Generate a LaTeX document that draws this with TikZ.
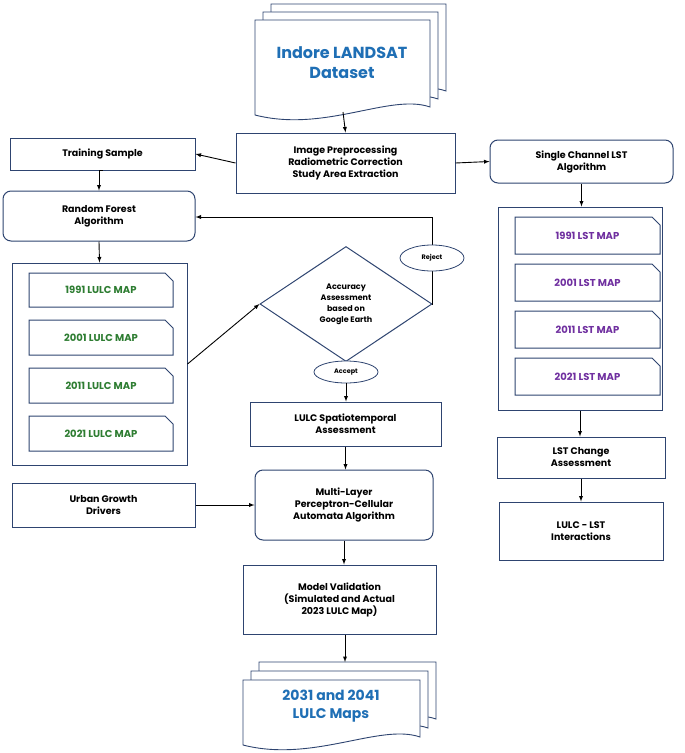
\documentclass[tikz,border=0pt]{standalone}
\usepackage{fontspec}
\setmainfont{Poppins}
\usetikzlibrary{shapes.geometric}
\definecolor{edge}{HTML}{2E4470}
\definecolor{dblue}{HTML}{1F6FB5}
\definecolor{mgreen}{HTML}{2E7D32}
\definecolor{mpurple}{HTML}{7030A0}
\begin{document}
\begin{tikzpicture}[x=1pt,y=-1pt,
  box/.style={draw=edge,line width=1pt,fill=white,align=center,font=\bfseries\fontsize{9.5}{12}\selectfont,inner sep=2pt},
  rbox/.style={box,rounded corners=8pt},
  arr/.style={-latex,line width=0.9pt},
  lab/.style={draw=edge,line width=0.8pt,ellipse,fill=white,font=\bfseries\fontsize{6.5}{8}\selectfont,inner sep=1pt},
  doc/.style={draw=edge,line width=0.9pt,fill=white}]
\useasboundingbox (0,0) rectangle (685,753);
% dataset stack
\newcommand\docshape[4]{% x1 y1 x2 y2
  \path[doc] (#1,#4) -- (#1,#2) -- (#3,#2) -- (#3,#4-8) .. controls (#3-40,#4-22) and (#1+70,#4+18) .. (#1,#4) -- cycle;}
\docshape{271}{4}{446}{99}
\docshape{263}{12}{438}{107}
\docshape{255}{20}{430}{115}
\node[font=\bfseries\fontsize{16}{20}\selectfont,text=dblue,align=center] (ds) at (342,63) {Indore LANDSAT\\Dataset};
\coordinate (dsb) at (343,112);
% output stack
\docshape{259}{662}{436}{727}
\docshape{251}{671}{428}{736}
\docshape{243}{680}{420}{745}
\node[font=\bfseries\fontsize{14}{18}\selectfont,text=dblue,align=center] (out) at (331,706) {2031 and 2041\\LULC Maps};
\coordinate (outt) at (345,662);
% boxes
\node[box,minimum width=219pt,minimum height=60pt] (pre) at (345.5,163) {Image Preprocessing\\Radiometric Correction\\Study Area Extraction};
\node[box,minimum width=185pt,minimum height=32pt] (ts) at (102.5,154) {Training Sample};
\node[rbox,minimum width=183pt,minimum height=43pt] (sc) at (581.5,161.5) {Single Channel LST\\Algorithm};
\node[rbox,minimum width=192pt,minimum height=50pt] (rf) at (99,216) {Random Forest\\Algorithm};
\node[box,minimum width=175pt,minimum height=202pt] (lc) at (99.5,364) {};
\tikzset{map/.style={draw=edge,line width=1pt,font=\bfseries\fontsize{10}{12}\selectfont,inner sep=0pt}}
\newcommand\mapbox[6]{% name x1 y1 x2 y2 colour/text
  \path[map] (#2,#3) -- (#4-8,#3) -- (#4,#3+8) -- (#4,#5) -- (#2,#5) -- cycle;
  \node[font=\bfseries\fontsize{10}{12}\selectfont] (#1) at ({(#2+#4)/2},{(#3+#5)/2}) {#6};}
\mapbox{m1}{29}{273}{173}{307}{\textcolor{mgreen}{1991 LULC MAP}}
\mapbox{m2}{29}{320}{173}{355}{\textcolor{mgreen}{2001 LULC MAP}}
\mapbox{m3}{29}{368}{173}{403}{\textcolor{mgreen}{2011 LULC MAP}}
\mapbox{m4}{29}{416}{173}{451}{\textcolor{mgreen}{2021 LULC MAP}}
\node[box,minimum width=164pt,minimum height=203pt] (lst) at (580,308.5) {};
\mapbox{s1}{515}{217}{660}{254}{\textcolor{mpurple}{1991 LST MAP}}
\mapbox{s2}{515}{264}{660}{301}{\textcolor{mpurple}{2001 LST MAP}}
\mapbox{s3}{515}{311}{660}{348}{\textcolor{mpurple}{2011 LST MAP}}
\mapbox{s4}{515}{358}{660}{395}{\textcolor{mpurple}{2021 LST MAP}}
\node[draw=edge,line width=1pt,diamond,aspect=1.5,minimum width=172pt,minimum height=115pt,inner sep=0pt,align=center,font=\bfseries\fontsize{8}{11}\selectfont] (acc) at (346,304) {Accuracy\\Assessment\\based on\\Google Earth};
\node[box,minimum width=191pt,minimum height=44pt] (sp) at (345.5,424) {LULC Spatiotemporal\\Assessment};
\node[rbox,minimum width=178pt,minimum height=70pt] (mlp) at (344,505) {Multi-Layer\\Perceptron-Cellular\\Automata Algorithm};
\node[box,minimum width=183pt,minimum height=44pt] (ug) at (103.5,505) {Urban Growth\\Drivers};
\node[box,minimum width=193pt,minimum height=69pt] (mv) at (339.5,599.5) {Model Validation\\(Simulated and Actual\\2023 LULC Map)};
\node[box,minimum width=168pt,minimum height=41pt] (ch) at (581,457.5) {LST Change\\Assessment};
\node[box,minimum width=164pt,minimum height=58pt] (in) at (581,531) {LULC - LST\\Interactions};
% connectors
\draw[arr] (dsb) -- (pre.north);
\draw[arr] (pre.west) -- (ts.east);
\draw[arr] (pre.east) -- (sc.west);
\draw[arr] (ts.south) -- (rf.south|-ts.south) -- (rf.north);
\draw[arr] (rf.south) -- (lc.north);
\draw[arr] (lc.east) -- (acc.west);
\coordinate (rj) at (432,217);
\draw[line width=0.9pt] (acc.east) -- (rj|-acc.east) -- (rj);
\draw[arr] (rj) -- (rf.east|-rj);
\node[lab,minimum width=64pt,minimum height=26pt] (rej) at (432,258) {Reject};
\draw[line width=0.9pt] (acc.south) -- (346,372);
\node[lab,minimum width=64pt,minimum height=22pt] (acp) at (346,372) {Accept};
\draw[arr] (acp.south) -- (sp.north-|acp.south);
\draw[arr] (sp.south) -- (mlp.north-|sp.south);
\draw[arr] (ug.east) -- (mlp.west);
\draw[arr] (mlp.south) -- (mv.north-|mlp.south);
\draw[arr] (mv.south-|outt) -- (outt);
\draw[arr] (sc.south) -- (lst.north-|sc.south);
\draw[arr] (lst.south) -- (ch.north-|lst.south);
\draw[arr] (ch.south) -- (in.north-|ch.south);
\end{tikzpicture}
\end{document}
